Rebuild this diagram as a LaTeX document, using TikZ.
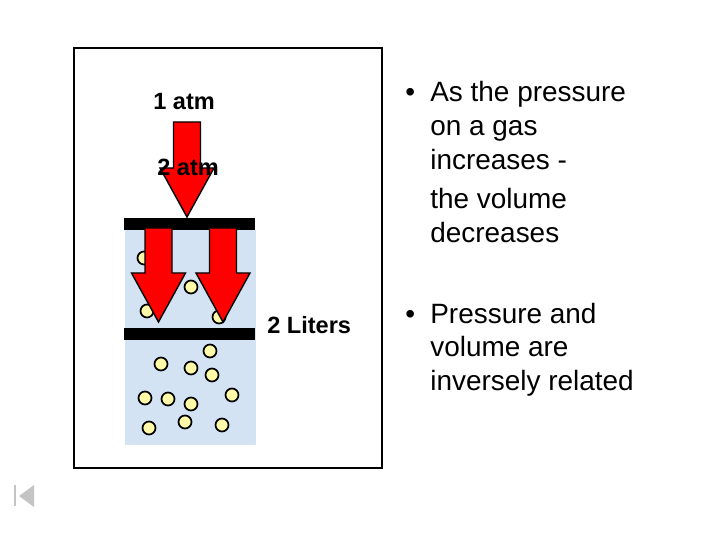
\documentclass[tikz,border=0pt]{standalone}
\usepackage{fontspec}
\setmainfont{Liberation Sans}
\usepackage{xcolor}
\definecolor{gasblue}{HTML}{D3E3F3}
\definecolor{gasyellow}{HTML}{FFF9A8}
\definecolor{navgrey}{HTML}{C4C4C4}
\tikzstyle{label} = [anchor=base west, inner sep=0pt, font=\fontsize{13.4}{15}\selectfont\bfseries]
\tikzstyle{bullet} = [anchor=base west, inner sep=0pt, font=\fontsize{15.9}{18}\selectfont]
\tikzstyle{molecule} = [circle, draw, line width=1pt, fill=gasyellow, inner sep=0pt, minimum size=7.4pt]
\tikzstyle{piston} = [fill=black]
\tikzstyle{press} = [draw=black, line width=0.8pt, fill=red]
\newcommand{\pressarrow}[3]{% centre x, top y, tip y
    \path[press] (#1-13.5,#2) -- (#1+13.5,#2) -- (#1+13.5,#3-49) -- (#1+27,#3-49)
        -- (#1,#3) -- (#1-27,#3-49) -- (#1-13.5,#3-49) -- cycle;
}
\begin{document}
\begin{tikzpicture}[x=0.02cm,y=-0.02cm]
    \useasboundingbox (0,0) rectangle (720,540);
    \draw[line width=1pt] (74,48) rectangle (382,468);
    % gas
    \fill[gasblue] (125,230) rectangle (256,445);
    \foreach \name/\px/\py in {a/144/258,b/191/287,c/147/311,d/219/317,e/210/351,
        f/161/364,g/191/368,h/212/375,i/145/398,j/168/399,k/191/404,l/232/395,
        m/149/428,n/185/422,o/222/425}
        \node[molecule] (mol\name) at (\px,\py) {};
    % pistons
    \path[piston] (124,218) rectangle (255,230);
    \path[piston] (124,328) rectangle (255,340);
    % arrows
    \pressarrow{187}{122}{217}
    \pressarrow{158.5}{228}{322}
    \pressarrow{223}{228}{322}
    % labels
    \node[label] (atm1) at (153,110) {1 atm};
    \node[label] (atm2) at (157,176) {2 atm};
    \node[label] (liters) at (267,334) {2 Liters};
    \node[bullet] (b1) at (405,102) {•};
    \node[bullet] (t1) at (430,102) {As the pressure};
    \node[bullet] (t2) at (430,136) {on a gas};
    \node[bullet] (t3) at (430,170) {increases -};
    \node[bullet] (t4) at (430,209) {the volume};
    \node[bullet] (t5) at (430,243) {decreases};
    \node[bullet] (b2) at (405,324) {•};
    \node[bullet] (t6) at (430,324) {Pressure and};
    \node[bullet] (t7) at (430,357) {volume are};
    \node[bullet] (t8) at (430,391) {inversely related};
    % back button
    \fill[navgrey] (14,485) rectangle (16,506);
    \fill[navgrey] (34,485) -- (19,496) -- (34,507) -- cycle;
\end{tikzpicture}
\end{document}
